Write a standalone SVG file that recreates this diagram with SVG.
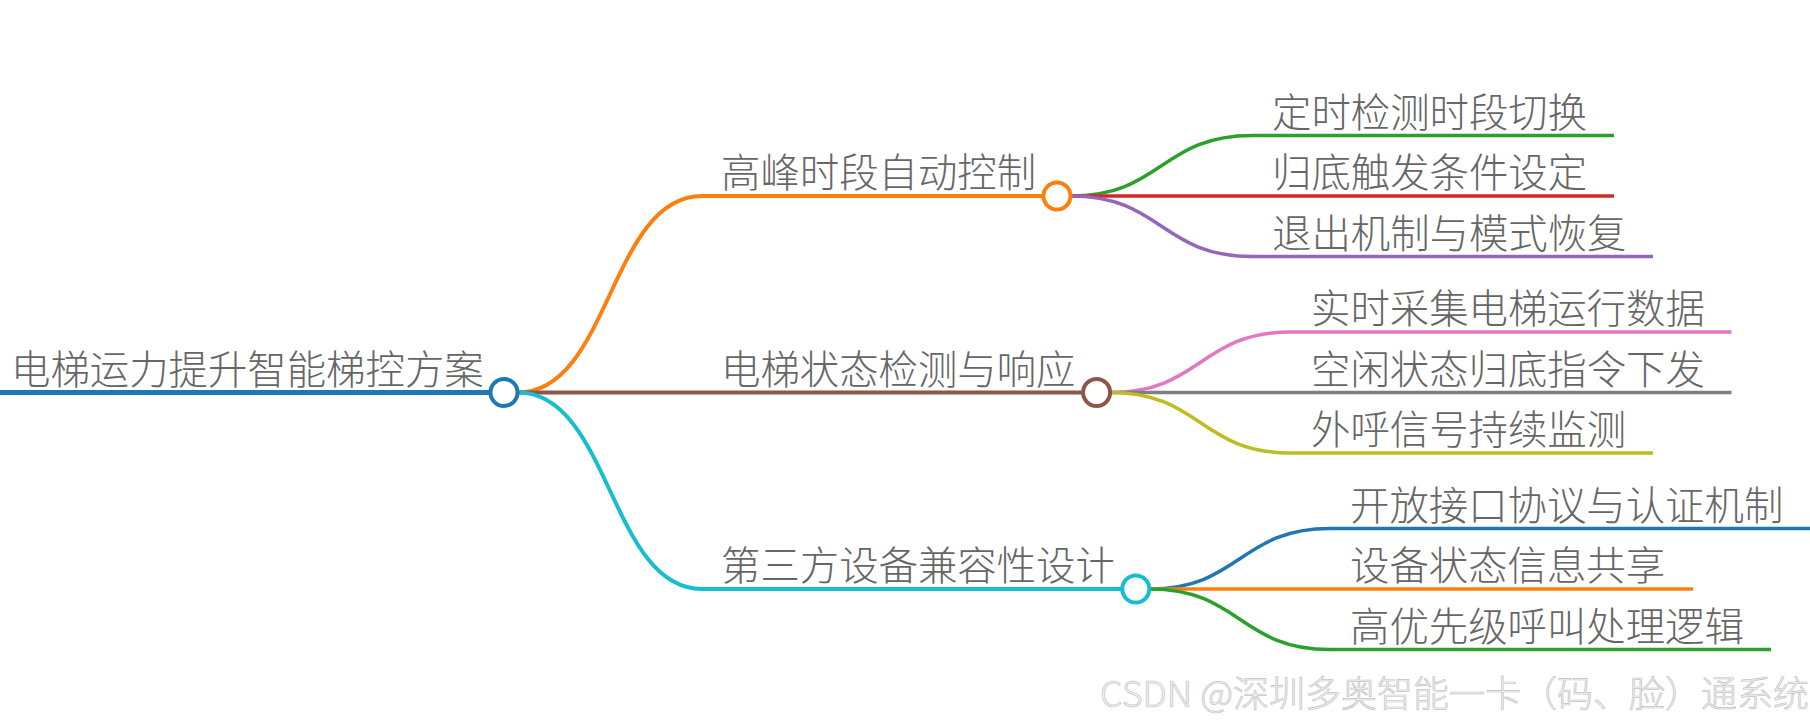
<svg xmlns="http://www.w3.org/2000/svg" width="1810" height="728" viewBox="0 0 1810 728">
<style>
.t{font-family:"Noto Sans CJK SC","Noto Sans",sans-serif;font-size:39.4px;font-weight:300;fill:#666666}
.e{fill:none;stroke-linecap:butt}
.l1{stroke-width:4}
.l2{stroke-width:3.5}
.c{fill:#ffffff;stroke-width:4}
.wm{font-family:"Noto Sans CJK SC","Liberation Sans",sans-serif;font-size:36px;font-weight:300;fill:#f3f3f3;stroke:#c4c4c4;stroke-width:0.7}
</style>
<rect width="1810" height="728" fill="#ffffff"/>
<g id="connectors">
<path class="e" d="M0 392.5 H504" stroke="#1f77b4" stroke-width="5"/>
<path class="e l1" d="M518 392.5 C610 392.5 610 196 702 196 H1057" stroke="#ff7f0e"/>
<path class="e l1" d="M518 392.5 H1096.6" stroke="#8c564b"/>
<path class="e l1" d="M518 392.5 C610 392.5 610 589 702 589 H1135.8" stroke="#17becf"/>
<path class="e l2" d="M1071 196 C1161.5 196 1161.5 135.5 1252 135.5 H1614" stroke="#2ca02c"/>
<path class="e l2" d="M1071 196 H1614" stroke="#d62728"/>
<path class="e l2" d="M1071 196 C1161.5 196 1161.5 256.5 1252 256.5 H1653" stroke="#9467bd"/>
<path class="e l2" d="M1110.6 392.5 C1200.6 392.5 1200.6 332 1290.6 332 H1731.5" stroke="#e377c2"/>
<path class="e l2" d="M1110.6 392.5 H1731.5" stroke="#7f7f7f"/>
<path class="e l2" d="M1110.6 392.5 C1200.6 392.5 1200.6 453 1290.6 453 H1653" stroke="#bcbd22"/>
<path class="e l2" d="M1149.8 589 C1239.8 589 1239.8 528.5 1329.8 528.5 H1810" stroke="#1f77b4"/>
<path class="e l2" d="M1149.8 589 H1693" stroke="#ff7f0e"/>
<path class="e l2" d="M1149.8 589 C1239.8 589 1239.8 649.5 1329.8 649.5 H1771" stroke="#2ca02c"/>
</g>
<g id="root">
<text class="t" x="11" y="383.5">电梯运力提升智能梯控方案</text>
<circle class="c" cx="504" cy="392.5" r="13.5" stroke="#1f77b4"/>
</g>
<g id="n1">
<text class="t" x="721" y="187">高峰时段自动控制</text>
<circle class="c" cx="1057" cy="196" r="13.5" stroke="#ff7f0e"/>
</g>
<g id="n2">
<text class="t" x="721" y="383.5">电梯状态检测与响应</text>
<circle class="c" cx="1096.6" cy="392.5" r="13.5" stroke="#8c564b"/>
</g>
<g id="n3">
<text class="t" x="721" y="580">第三方设备兼容性设计</text>
<circle class="c" cx="1135.8" cy="589" r="13.5" stroke="#17becf"/>
</g>
<g id="n1a"><text class="t" x="1272" y="126.5">定时检测时段切换</text></g>
<g id="n1b"><text class="t" x="1272" y="187">归底触发条件设定</text></g>
<g id="n1c"><text class="t" x="1272" y="247.5">退出机制与模式恢复</text></g>
<g id="n2a"><text class="t" x="1311" y="323">实时采集电梯运行数据</text></g>
<g id="n2b"><text class="t" x="1311" y="383.5">空闲状态归底指令下发</text></g>
<g id="n2c"><text class="t" x="1311" y="444">外呼信号持续监测</text></g>
<g id="n3a"><text class="t" x="1350" y="519.5">开放接口协议与认证机制</text></g>
<g id="n3b"><text class="t" x="1350" y="580">设备状态信息共享</text></g>
<g id="n3c"><text class="t" x="1350" y="640.5">高优先级呼叫处理逻辑</text></g>
<text class="wm" x="1100" y="707">CSDN @深圳多奥智能一卡（码、脸）通系统</text>
</svg>
